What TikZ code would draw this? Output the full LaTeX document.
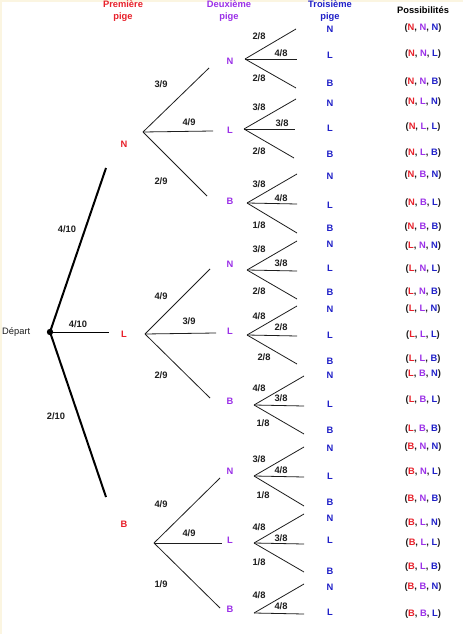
\documentclass[tikz,border=0pt]{standalone}
\usepackage{fontspec}
\setmainfont{Liberation Sans}
\definecolor{cr}{RGB}{232,32,42}
\definecolor{cp}{RGB}{155,48,232}
\definecolor{cb}{RGB}{32,32,200}
\definecolor{cream}{RGB}{251,245,225}
\definecolor{ink}{RGB}{30,30,30}
\begin{document}
\begin{tikzpicture}[x=0.75pt,y=-0.75pt,
  lbl/.style={font=\bfseries\fontsize{7}{8.6}\selectfont,inner sep=0pt,text=ink},
  red1/.style={lbl,text=cr},
  pur2/.style={lbl,text=cp},
  blu3/.style={lbl,text=cb},
  hdr/.style={lbl,align=center},
  thinbr/.style={line width=0.6pt,draw=ink},
  thickbr/.style={line width=1.5pt,draw=black}]
\useasboundingbox (0,0) rectangle (463,634);
\fill[white] (0,0) rectangle (463,634);
\fill[cream] (0,0) rectangle (2,634);
\fill[cream] (0,0) rectangle (463,2);

% headers
\node[hdr,text=cr] (h1) at (123,11.3) {Première\\pige};
\node[hdr,text=cp] (h2) at (229,11.3) {Deuxième\\pige};
\node[hdr,text=cb] (h3) at (330,11.3) {Troisième\\pige};
\node[lbl,text=black] (h4) at (423,10) {Possibilités};

% start
\node[inner sep=0pt,font=\fontsize{7}{8.6}\selectfont,text=ink,anchor=east] (dep) at (30.5,332) {Départ};
\fill[black] (50,332) circle (3.2) coordinate (D);
\coordinate (e1N) at (106,168);
\coordinate (e1L) at (109,332);
\coordinate (e1B) at (106,497);
\draw[thickbr] (D) -- (e1N);
\draw[line width=0.6pt,draw=black] (D) -- (e1L);
\draw[thickbr] (D) -- (e1B);
\node[lbl] (p1a) at (67,229) {4/10};
\node[lbl] (p1b) at (78,324) {4/10};
\node[lbl] (p1c) at (56,416) {2/10};
\node[red1] (N1) at (124,144) {N};
\node[red1] (L1) at (124,334) {L};
\node[red1] (B1) at (124,524) {B};

% second level forks
\foreach \n/\ox/\oy/\ax/\ay/\bx/\by/\cx/\cy in {
  N/143/132/209/68/213/131/207/196,
  L/145/334/210/269/216/333/210/398,
  B/154/543/220/478/222/543/220/608}{
  \coordinate (f\n) at (\ox,\oy);
  \coordinate (f\n a) at (\ax,\ay);
  \coordinate (f\n b) at (\bx,\by);
  \coordinate (f\n c) at (\cx,\cy);
  \draw[thinbr] (f\n) -- (f\n a);
  \draw[thinbr] (f\n) -- (f\n b);
  \draw[thinbr] (f\n) -- (f\n c);
}
\foreach \n/\t/\x/\y in {
  qa/3\slash9/161/84, qb/4\slash9/189/122, qc/2\slash9/161/181,
  qd/4\slash9/161/296, qe/3\slash9/189/321, qf/2\slash9/161/375,
  qg/4\slash9/161/504, qh/4\slash9/189/533, qi/1\slash9/161/584}{
  \node[lbl] (\n) at (\x,\y) {\t};
}
\foreach \n/\t/\y in {NN/N/61, NL/L/130, NB/B/201, LN/N/264, LL/L/331, LB/B/401, BN/N/471, BL/L/540, BB/B/609}{
  \node[pur2] (s\n) at (230,\y) {\t};
}

% third level forks
\foreach \n/\ox/\oy/\ax/\ay/\bx/\by/\cx/\cy in {
  1/245/59/296/29/297/59/296/88,
  2/244/129/296/99/295/129/294/158,
  3/247/203/297/174/297/204/297/233,
  4/247/270/297/241/297/271/297/299,
  5/247/335/297/306/297/336/297/364,
  6/254/405/304/376/304/406/304/434,
  7/254/476/304/447/304/477/304/506,
  8/254/543/304/514/304/544/304/572}{
  \coordinate (g\n) at (\ox,\oy);
  \coordinate (g\n a) at (\ax,\ay);
  \coordinate (g\n b) at (\bx,\by);
  \coordinate (g\n c) at (\cx,\cy);
  \draw[thinbr] (g\n) -- (g\n a);
  \draw[thinbr] (g\n) -- (g\n b);
  \draw[thinbr] (g\n) -- (g\n c);
}
\coordinate (g9) at (254,613);
\coordinate (g9a) at (304,584);
\coordinate (g9b) at (304,614);
\draw[thinbr] (g9) -- (g9a);
\draw[thinbr] (g9) -- (g9b);

\foreach \n/\t/\x/\y in {
  r1/2\slash8/259/36, r2/4\slash8/281/53, r3/2\slash8/259/78,
  r4/3\slash8/259/107, r5/3\slash8/282/123, r6/2\slash8/259/151,
  r7/3\slash8/259/184, r8/4\slash8/281/198, r9/1\slash8/259/225,
  r10/3\slash8/259/249, r11/3\slash8/281/263, r12/2\slash8/259/291,
  r13/4\slash8/259/316, r14/2\slash8/281/327, r15/2\slash8/264/357,
  r16/4\slash8/259/388, r17/3\slash8/281/398, r18/1\slash8/263/423,
  r19/3\slash8/259/459, r20/4\slash8/281/470, r21/1\slash8/263/495,
  r22/4\slash8/259/527, r23/3\slash8/281/538, r24/1\slash8/259/562,
  r25/4\slash8/259/595, r26/4\slash8/281/606}{
  \node[lbl] (\n) at (\x,\y) {\t};
}

\foreach \n/\t/\y in {
  1/N/29, 2/L/55, 3/B/83, 4/N/103, 5/L/128, 6/B/154, 7/N/176, 8/L/205, 9/B/228,
  10/N/244, 11/L/268, 12/B/292, 13/N/309, 14/L/335, 15/B/361, 16/N/375, 17/L/404, 18/B/430,
  19/N/448, 20/L/476, 21/B/502, 22/N/518, 23/L/540, 24/B/571, 25/N/587, 26/L/612}{
  \node[blu3] (t\n) at (330,\y) {\t};
}

\foreach \n/\a/\b/\c/\y in {
  1/N/N/N/28, 2/N/N/L/54, 3/N/N/B/82, 4/N/L/N/102, 5/N/L/L/127, 6/N/L/B/153,
  7/N/B/N/175, 8/N/B/L/203, 9/N/B/B/227, 10/L/N/N/246, 11/L/N/L/269, 12/L/N/B/292,
  13/L/L/N/309, 14/L/L/L/335, 15/L/L/B/359, 16/L/B/N/374, 17/L/B/L/400, 18/L/B/B/429,
  19/B/N/N/447, 20/B/N/L/472, 21/B/N/B/499, 22/B/L/N/523, 23/B/L/L/543, 24/B/L/B/567,
  25/B/B/N/587, 26/B/B/L/614}{
  \node[lbl] (pos\n) at (423,\y) {(\textcolor{cr}{\a}, \textcolor{cp}{\b}, \textcolor{cb}{\c})};
}
\end{tikzpicture}
\end{document}
